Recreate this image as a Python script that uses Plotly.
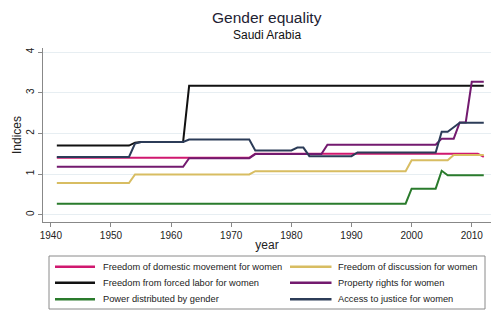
import plotly.graph_objects as go

years = list(range(1941, 2013))

domestic_movement = [
    1.40, 1.40, 1.40, 1.40, 1.40, 1.40, 1.40, 1.40, 1.40, 1.40,  # 1941-1950
    1.40, 1.40, 1.40, 1.40, 1.40, 1.40, 1.40, 1.40, 1.40, 1.40,  # 1951-1960
    1.40, 1.40, 1.40, 1.40, 1.40, 1.40, 1.40, 1.40, 1.40, 1.40,  # 1961-1970
    1.40, 1.40, 1.40, 1.50, 1.50, 1.50, 1.50, 1.50, 1.50, 1.50,  # 1971-1980
    1.50, 1.50, 1.50, 1.50, 1.50, 1.50, 1.50, 1.50, 1.50, 1.50,  # 1981-1990
    1.50, 1.50, 1.50, 1.50, 1.50, 1.50, 1.50, 1.50, 1.50, 1.50,  # 1991-2000
    1.50, 1.50, 1.50, 1.50, 1.50, 1.50, 1.50, 1.50, 1.50, 1.50,  # 2001-2010
    1.50, 1.42,                                                  # 2011-2012
]
discussion = [
    0.78, 0.78, 0.78, 0.78, 0.78, 0.78, 0.78, 0.78, 0.78, 0.78,
    0.78, 0.78, 0.78, 0.99, 0.99, 0.99, 0.99, 0.99, 0.99, 0.99,
    0.99, 0.99, 0.99, 0.99, 0.99, 0.99, 0.99, 0.99, 0.99, 0.99,
    0.99, 0.99, 0.99, 1.07, 1.07, 1.07, 1.07, 1.07, 1.07, 1.07,
    1.07, 1.07, 1.07, 1.07, 1.07, 1.07, 1.07, 1.07, 1.07, 1.07,
    1.07, 1.07, 1.07, 1.07, 1.07, 1.07, 1.07, 1.07, 1.07, 1.34,
    1.34, 1.34, 1.34, 1.34, 1.34, 1.34, 1.47, 1.47, 1.47, 1.47,
    1.47, 1.47,
]
forced_labor = [
    1.70, 1.70, 1.70, 1.70, 1.70, 1.70, 1.70, 1.70, 1.70, 1.70,
    1.70, 1.70, 1.70, 1.77, 1.79, 1.79, 1.79, 1.79, 1.79, 1.79,
    1.79, 1.79, 3.17, 3.17, 3.17, 3.17, 3.17, 3.17, 3.17, 3.17,
    3.17, 3.17, 3.17, 3.17, 3.17, 3.17, 3.17, 3.17, 3.17, 3.17,
    3.17, 3.17, 3.17, 3.17, 3.17, 3.17, 3.17, 3.17, 3.17, 3.17,
    3.17, 3.17, 3.17, 3.17, 3.17, 3.17, 3.17, 3.17, 3.17, 3.17,
    3.17, 3.17, 3.17, 3.17, 3.17, 3.17, 3.17, 3.17, 3.17, 3.17,
    3.17, 3.17,
]
property_rights = [
    1.18, 1.18, 1.18, 1.18, 1.18, 1.18, 1.18, 1.18, 1.18, 1.18,
    1.18, 1.18, 1.18, 1.18, 1.18, 1.18, 1.18, 1.18, 1.18, 1.18,
    1.18, 1.18, 1.39, 1.39, 1.39, 1.39, 1.39, 1.39, 1.39, 1.39,
    1.39, 1.39, 1.39, 1.49, 1.49, 1.49, 1.49, 1.49, 1.49, 1.49,
    1.49, 1.49, 1.49, 1.49, 1.49, 1.72, 1.72, 1.72, 1.72, 1.72,
    1.72, 1.72, 1.72, 1.72, 1.72, 1.72, 1.72, 1.72, 1.72, 1.72,
    1.72, 1.72, 1.72, 1.72, 1.87, 1.87, 1.87, 2.27, 2.27, 3.27,
    3.27, 3.27,
]
power_by_gender = [
    0.27, 0.27, 0.27, 0.27, 0.27, 0.27, 0.27, 0.27, 0.27, 0.27,
    0.27, 0.27, 0.27, 0.27, 0.27, 0.27, 0.27, 0.27, 0.27, 0.27,
    0.27, 0.27, 0.27, 0.27, 0.27, 0.27, 0.27, 0.27, 0.27, 0.27,
    0.27, 0.27, 0.27, 0.27, 0.27, 0.27, 0.27, 0.27, 0.27, 0.27,
    0.27, 0.27, 0.27, 0.27, 0.27, 0.27, 0.27, 0.27, 0.27, 0.27,
    0.27, 0.27, 0.27, 0.27, 0.27, 0.27, 0.27, 0.27, 0.27, 0.64,
    0.64, 0.64, 0.64, 0.64, 1.08, 0.97, 0.97, 0.97, 0.97, 0.97,
    0.97, 0.97,
]
justice = [
    1.42, 1.42, 1.42, 1.42, 1.42, 1.42, 1.42, 1.42, 1.42, 1.42,
    1.42, 1.42, 1.42, 1.75, 1.79, 1.79, 1.79, 1.79, 1.79, 1.79,
    1.79, 1.79, 1.85, 1.85, 1.85, 1.85, 1.85, 1.85, 1.85, 1.85,
    1.85, 1.85, 1.85, 1.58, 1.58, 1.58, 1.58, 1.58, 1.58, 1.58,
    1.65, 1.65, 1.44, 1.44, 1.44, 1.44, 1.44, 1.44, 1.44, 1.44,
    1.53, 1.53, 1.53, 1.53, 1.53, 1.53, 1.53, 1.53, 1.53, 1.53,
    1.53, 1.53, 1.53, 1.53, 2.04, 2.04, 2.15, 2.26, 2.26, 2.26,
    2.26, 2.26,
]

series_names = [
    "Freedom of domestic movement for women",
    "Freedom of discussion for women",
    "Freedom from forced labor for women",
    "Property rights for women",
    "Power distributed by gender",
    "Access to justice for women",
]
series_values = [domestic_movement, discussion, forced_labor,
                 property_rights, power_by_gender, justice]
series_colors = ["#d0186f", "#d8bd62", "#111111", "#731a6f", "#2a7b2c", "#2c3c58"]

x_ticks = [1940, 1950, 1960, 1970, 1980, 1990, 2000, 2010]
y_ticks = [0, 1, 2, 3, 4]

FONT = "Liberation Sans, Arial, Helvetica, sans-serif"

W, H = 500, 323
ML, MR, MT, MB = 43, 9, 48, 101
PW, PH = W - ML - MR, H - MT - MB


def px_x(px):
    return (px - ML) / PW


def px_y(py):
    return (H - MB - py) / PH


fig = go.Figure()
for name, vals, col in zip(series_names, series_values, series_colors):
    fig.add_trace(go.Scatter(x=years, y=vals, mode="lines", name=name,
                             line=dict(color=col, width=2)))

fig.update_layout(
    width=W, height=H,
    margin=dict(l=ML, r=MR, t=MT, b=MB),
    paper_bgcolor="white", plot_bgcolor="white",
    font=dict(family=FONT, color="#222222"),
    showlegend=False,
    xaxis=dict(
        range=[1938.7, 2013.2], tickvals=x_ticks, showgrid=False, zeroline=False,
        showline=True, linecolor="#888888", linewidth=1,
        ticks="outside", ticklen=4, tickcolor="#888888",
        tickfont=dict(size=10),
        title=dict(text="year", font=dict(size=12), standoff=0),
    ),
    yaxis=dict(
        range=[-0.18, 4.1], tickvals=y_ticks, tickangle=-90,
        showgrid=True, gridcolor="#e7eef2", gridwidth=1, zeroline=False,
        showline=True, linecolor="#888888", linewidth=1,
        ticks="outside", ticklen=4, tickcolor="#888888",
        tickfont=dict(size=10),
        title=dict(text="Indices", font=dict(size=12), standoff=0),
    ),
)

fig.add_annotation(text="Gender equality", xref="paper", yref="paper",
                   x=0.5, y=1, yshift=31, showarrow=False, yanchor="middle",
                   font=dict(size=15.5, family=FONT, color="#1e2233"))
fig.add_annotation(text="Saudi Arabia", xref="paper", yref="paper",
                   x=0.5, y=1, yshift=13, showarrow=False, yanchor="middle",
                   font=dict(size=12, family=FONT, color="#111111"))

# Legend (boxed, two columns, three rows)
fig.add_shape(type="rect", xref="paper", yref="paper",
              x0=px_x(49), x1=px_x(485), y0=px_y(309), y1=px_y(256),
              line=dict(color="#8a8a8a", width=1), fillcolor="white", layer="above")
row_y = [266.7, 282.7, 299.3]
col_line = [(55, 95), (290, 331.5)]
col_text = [100.5, 336]
for i, (name, col) in enumerate(zip(series_names, series_colors)):
    r, c = divmod(i, 2)
    fig.add_shape(type="line", xref="paper", yref="paper",
                  x0=px_x(col_line[c][0]), x1=px_x(col_line[c][1]),
                  y0=px_y(row_y[r]), y1=px_y(row_y[r]),
                  line=dict(color=col, width=2.5), layer="above")
    fig.add_annotation(text=name, xref="paper", yref="paper",
                       x=px_x(col_text[c]), y=px_y(row_y[r]),
                       xanchor="left", yanchor="middle", showarrow=False,
                       font=dict(size=9.3, family=FONT, color="#222222"))

fig.write_html("out.html")
